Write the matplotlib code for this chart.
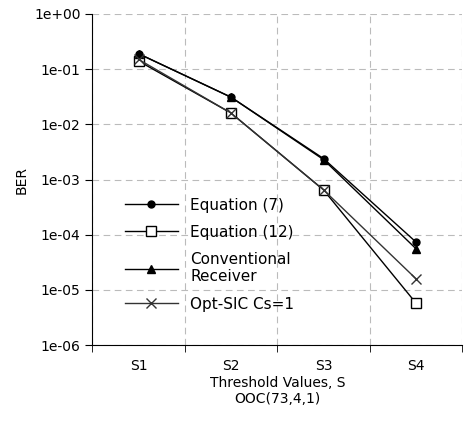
import matplotlib
matplotlib.use("Agg")
import matplotlib.pyplot as plt
import numpy as np

categories = ["S1", "S2", "S3", "S4"]
eq7 = [0.19, 0.031, 2.4e-3, 7.4e-5]
eq12 = [0.14, 0.016, 6.5e-4, 5.8e-6]
conventional = [0.19, 0.031, 2.3e-3, 5.6e-5]
opt_sic = [0.15, 0.016, 6.5e-4, 1.6e-5]
yticks = [1e0, 1e-1, 1e-2, 1e-3, 1e-4, 1e-5, 1e-6]
ytick_labels = ["1e+00", "1e-01", "1e-02", "1e-03", "1e-04", "1e-05", "1e-06"]

fig = plt.figure(figsize=(4.74, 4.22), dpi=100)
ax = fig.add_axes([0.195, 0.182, 0.78, 0.785])
x = np.arange(1, len(categories) + 1)

ax.plot(x, eq7, "-o", color="black", lw=1, ms=5, label="Equation (7)")
ax.plot(x, eq12, "-s", color="black", lw=1, ms=7, mfc="white", label="Equation (12)")
ax.plot(x, conventional, "-^", color="black", lw=1, ms=6, label="Conventional\nReceiver")
ax.plot(x, opt_sic, "-x", color="#333333", lw=1, ms=7, label="Opt-SIC Cs=1")

ax.set_yscale("log")
ax.set_ylim(1e-6, 1e0)
ax.set_yticks(yticks)
ax.set_yticklabels(ytick_labels)
ax.minorticks_off()
ax.set_xlim(0.5, 4.5)
ax.set_xticks(x)
ax.set_xticklabels(categories)
ax.set_xticks([0.5, 1.5, 2.5, 3.5, 4.5], minor=True)
ax.grid(which="minor", axis="x", ls=(0, (6, 4)), color="#bbbbbb", lw=0.8)
ax.grid(which="major", axis="y", ls=(0, (6, 4)), color="#bbbbbb", lw=0.8)
ax.tick_params(axis="x", which="major", length=0, labelsize=10, pad=10)
ax.tick_params(axis="x", which="minor", length=5)
ax.tick_params(axis="y", labelsize=10, length=5)
for s in ["top", "right"]:
    ax.spines[s].set_visible(False)

ax.set_ylabel("BER", fontsize=10)
ax.set_xlabel("Threshold Values, S\nOOC(73,4,1)", fontsize=10, labelpad=2)
ax.legend(loc="lower left", bbox_to_anchor=(0.05, 0.06), frameon=False,
          fontsize=11, handlelength=3.5, labelspacing=0.8)

fig.savefig("out.png", dpi=100)
